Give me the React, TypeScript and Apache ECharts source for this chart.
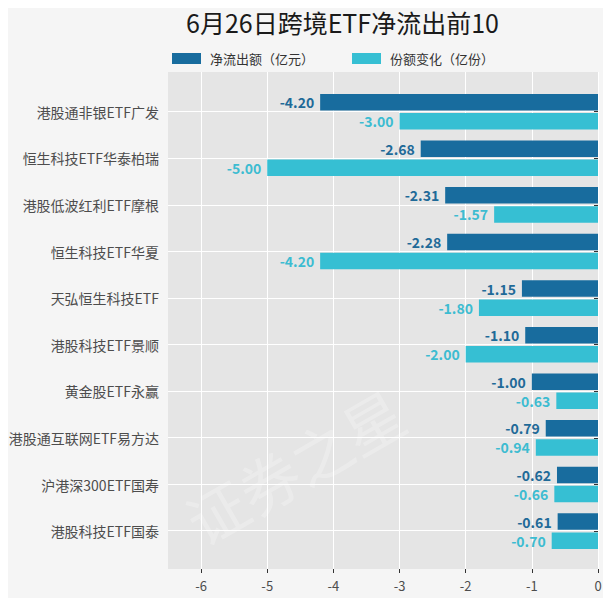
import { useEffect, useRef } from 'react'
import * as echarts from 'echarts'

const categories = [
  '港股通非银ETF广发',
  '恒生科技ETF华泰柏瑞',
  '港股低波红利ETF摩根',
  '恒生科技ETF华夏',
  '天弘恒生科技ETF',
  '港股科技ETF景顺',
  '黄金股ETF永赢',
  '港股通互联网ETF易方达',
  '沪港深300ETF国寿',
  '港股科技ETF国泰'
]
const netOutflow = [-4.2, -2.68, -2.31, -2.28, -1.15, -1.1, -1.0, -0.79, -0.62, -0.61]
const shareChange = [-3.0, -5.0, -1.57, -4.2, -1.8, -2.0, -0.63, -0.94, -0.66, -0.7]
const xTicks = [-6, -5, -4, -3, -2, -1, 0]

const FONT = '"Noto Sans CJK SC", "Noto Sans", sans-serif'
const DARK = '#186c9e'
const LIGHT = '#36bfd3'

const App = () => {
  const chartRef = useRef<HTMLDivElement>(null)

  useEffect(() => {
    if (!chartRef.current) return
    const chart = echarts.init(chartRef.current, undefined, { renderer: 'svg' })

    chart.setOption({
      animation: false,
      backgroundColor: '#f5f5f5',
      textStyle: { fontFamily: FONT },
      title: {
        text: '6月26日跨境ETF净流出前10',
        left: 181,
        top: 4,
        textStyle: { fontSize: 25, fontWeight: 'normal', color: '#1a1a1a', fontFamily: FONT }
      },
      legend: {
        left: 172,
        top: 52,
        padding: 0,
        itemWidth: 29,
        itemHeight: 11,
        itemGap: 38,
        icon: 'rect',
        textStyle: { fontSize: 13, color: '#333', padding: [0, 0, 0, 4], fontFamily: FONT },
        data: ['净流出额（亿元）', '份额变化（亿份）']
      },
      // 水印，放在面板左下的空白处
      graphic: [
        {
          type: 'text',
          x: 190,
          y: 525,
          rotation: Math.PI / 6,
          z: 100,
          silent: true,
          style: {
            text: '证券之星',
            font: `60px ${FONT}`,
            verticalAlign: 'middle',
            fill: 'rgba(255,255,255,0.25)'
          }
        }
      ],
      grid: [
        { left: 168, top: 72, width: 430, height: 497, show: true, backgroundColor: '#e5e5e5', borderWidth: 0 },
        { left: 168, top: 88.4, width: 430, height: 466 },
        { left: 168, top: 111.7, width: 430, height: 419 }
      ],
      xAxis: [
        {
          gridIndex: 0,
          type: 'value',
          min: -6.5,
          max: 0,
          axisLine: { show: false },
          axisTick: { show: true, length: 4, customValues: xTicks, lineStyle: { color: '#333' } },
          axisLabel: { customValues: xTicks, color: '#4d4d4d', fontSize: 13, margin: 10 },
          splitLine: { show: true, lineStyle: { color: '#fff', width: 1 } }
        },
        { gridIndex: 1, type: 'value', min: -6.5, max: 0, show: false },
        { gridIndex: 2, type: 'value', min: -6.5, max: 0, show: false }
      ],
      yAxis: [
        { gridIndex: 0, type: 'value', min: 0, max: 1, show: false },
        {
          gridIndex: 1,
          type: 'category',
          data: categories,
          inverse: true,
          axisLine: { show: false },
          axisTick: { show: true, alignWithLabel: true, length: 4, lineStyle: { color: '#333' } },
          axisLabel: { interval: 0, color: '#4d4d4d', fontSize: 14, margin: 9 },
          splitLine: { show: false }
        },
        {
          gridIndex: 2,
          type: 'category',
          data: categories,
          inverse: true,
          boundaryGap: false,
          axisLine: { show: false },
          axisTick: { show: false },
          axisLabel: { show: false },
          splitLine: { show: true, interval: 0, lineStyle: { color: '#fff', width: 1 } }
        }
      ],
      series: [
        {
          name: '净流出额（亿元）',
          type: 'bar',
          xAxisIndex: 1,
          yAxisIndex: 1,
          data: netOutflow,
          barWidth: 16.5,
          barGap: '16%',
          itemStyle: { color: DARK },
          label: {
            show: true,
            position: 'left',
            distance: 6,
            formatter: (p: any) => p.value.toFixed(2),
            color: '#1f6a98',
            fontSize: 14,
            fontWeight: 'bold',
            fontFamily: FONT
          }
        },
        {
          name: '份额变化（亿份）',
          type: 'bar',
          xAxisIndex: 1,
          yAxisIndex: 1,
          data: shareChange,
          barWidth: 16.5,
          itemStyle: { color: LIGHT },
          label: {
            show: true,
            position: 'left',
            distance: 6,
            formatter: (p: any) => p.value.toFixed(2),
            color: '#3dbcd1',
            fontSize: 14,
            fontWeight: 'bold',
            fontFamily: FONT
          }
        }
      ]
    })

    const resize = () => chart.resize()
    window.addEventListener('resize', resize)
    return () => {
      window.removeEventListener('resize', resize)
      chart.dispose()
    }
  }, [])

  return <div ref={chartRef} style={{ width: 611, height: 606, margin: -8 }} />
}

export default App
